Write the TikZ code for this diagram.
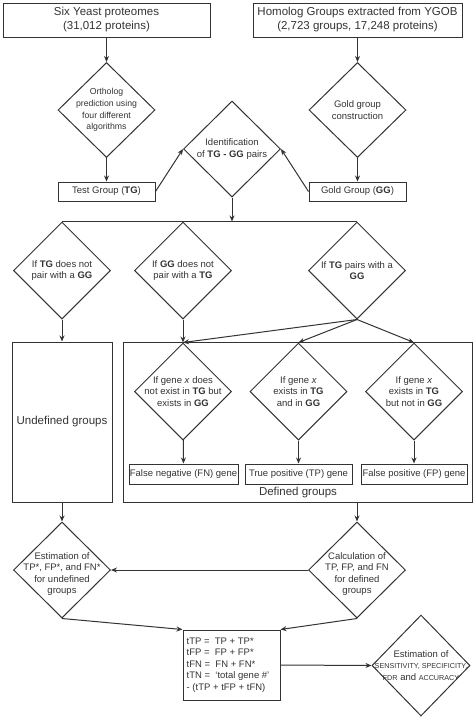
\documentclass[tikz,border=0pt]{standalone}
\usepackage{fontspec}
\setmainfont{Liberation Sans}
\usetikzlibrary{shapes.geometric,arrows.meta}
\definecolor{ink}{HTML}{333333}
\newcommand{\ssc}[1]{{\fontsize{7.2}{8}\selectfont #1}}
\begin{document}
\begin{tikzpicture}[x=1pt,y=-1pt,
  every node/.style={text=ink},
  box/.style={draw=ink, line width=1pt, inner sep=0pt, align=center, font=\fontsize{9.5}{11.5}\selectfont},
  bigbox/.style={box, font=\fontsize{11.5}{14}\selectfont},
  dia/.style={diamond, draw=ink, line width=1pt, inner sep=0pt, minimum width=97pt, minimum height=97pt},
  txt/.style={align=center, font=\fontsize{9.5}{11.5}\selectfont, inner sep=0pt, text=ink},
  arr/.style={draw=ink, line width=1pt, -{Stealth[length=6pt,width=5pt]}},
  ln/.style={draw=ink, line width=1pt}]
\useasboundingbox (0,0) rectangle (474,718);

% top row
\node[bigbox, minimum width=207pt, minimum height=34pt] (six) at (106.5,20) {Six Yeast proteomes\\(31,012 proteins)};
\node[bigbox, minimum width=209pt, minimum height=34pt] (hom) at (357.5,20) {Homolog Groups extracted from YGOB\\(2,723 groups, 17,248 proteins)};

\node[dia, minimum height=95pt, label={[txt, font=\fontsize{8.7}{11.7}\selectfont]center:Ortholog\\prediction using\\four different\\algorithms}] (orth) at (106.5,110) {};
\node[dia, minimum height=95pt, label={[txt]center:Gold group\\construction}] (gold) at (357.5,110) {};

\node[box, minimum width=97pt, minimum height=19pt] (tg) at (106.5,191.5) {Test Group (\textbf{TG})};
\node[box, minimum width=97pt, minimum height=19pt] (gg) at (357.5,191.5) {Gold Group (\textbf{GG})};

\node[dia, minimum height=96pt, label={[txt]center:Identification\\of \textbf{TG - GG} pairs}] (ident) at (232,149) {};

\draw[arr] (six) -- (orth);
\draw[arr] (hom) -- (gold);
\draw[arr] (orth) -- (tg);
\draw[arr] (gold) -- (gg);
\draw[arr] (tg.east) -- (ident.west);
\draw[arr] (gg.west) -- (ident.east);

% split
\node[dia, label={[txt]center:If \textbf{TG} does not\\pair with a \textbf{GG}}] (d1) at (62,270.5) {};
\node[dia, label={[txt]center:If \textbf{GG} does not\\pair with a \textbf{TG}}] (d2) at (183,270.5) {};
\node[dia, label={[txt]center:If \textbf{TG} pairs with a\\\textbf{GG}}] (d3) at (357,270.5) {};
\coordinate (split) at (ident.south |- d1.north);
\draw[ln] (d1.north) -- (d3.north);
\draw[arr] (ident.south) -- (split);

% group boxes
\node[box, minimum width=100pt, minimum height=160pt, font=\fontsize{11.5}{14}\selectfont] (undef) at (62,422) {Undefined groups};
\node[box, minimum width=349pt, minimum height=160pt] (defb) at (297.5,422) {};
\node[txt, font=\fontsize{11.5}{14}\selectfont] (deflabel) at (298,493) {Defined groups};

\node[dia, label={[txt]center:If gene \textit{x} does\\not exist in \textbf{TG} but\\exists in \textbf{GG}}] (fnd) at (183,391.5) {};
\node[dia, label={[txt]center:If gene \textit{x}\\exists in \textbf{TG}\\and in \textbf{GG}}] (tpd) at (298.5,391.5) {};
\node[dia, label={[txt]center:If gene \textit{x}\\exists in \textbf{TG}\\but not in \textbf{GG}}] (fpd) at (414,391.5) {};

\node[box, minimum width=109pt, minimum height=20pt] (fnb) at (183.5,474) {False negative (FN) gene};
\node[box, minimum width=107pt, minimum height=20pt] (tpb) at (298.5,474) {True positive (TP) gene};
\node[box, minimum width=106pt, minimum height=20pt] (fpb) at (414,474) {False positive (FP) gene};

\draw[arr] (d1) -- (undef);
\draw[arr] (d2) -- (fnd);
\draw[arr] (d3.south) -- (fnd.north);
\draw[arr] (d3.south) -- (tpd.north);
\draw[arr] (d3.south) -- (fpd.north);
\draw[arr] (fnd) -- (fnb);
\draw[arr] (tpd) -- (tpb);
\draw[arr] (fpd) -- (fpb);

% estimation
\node[dia, minimum height=96pt, label={[txt, yshift=-4pt]center:Estimation of\\TP*, FP*, and FN*\\for undefined\\groups}] (est) at (62,570) {};
\node[dia, minimum height=96pt, label={[txt, yshift=-4pt]center:Calculation of\\TP, FP, and FN\\for defined\\groups}] (calc) at (357,570) {};
\coordinate (defout) at (calc.north |- defb.south);
\draw[arr] (undef) -- (est);
\draw[arr] (defout) -- (calc.north);
\draw[arr] (calc.west) -- (est.east);

\node[box, minimum width=97pt, minimum height=70pt] (form) at (231.5,665) {};
\node[txt, align=left, anchor=west] (formtext) at ([xshift=4pt]form.west) {tTP =~ TP + TP*\\tFP =~ FP + FP*\\tFN =~ FN + FN*\\tTN =~ `total gene \#'\\- (tTP + tFP + tFN)};
\draw[arr] (est.south) -- (form.north west);
\draw[arr] (calc.south) -- (form.north east);

\node[dia, minimum width=98pt, minimum height=101pt, label={[txt]center:Estimation of\\\ssc{SENSITIVITY, SPECIFICITY,}\\\ssc{FDR} and \ssc{ACCURACY}}] (fin) at (421,665.5) {};
\draw[arr] (form.east) -- (fin.west);
\end{tikzpicture}
\end{document}
